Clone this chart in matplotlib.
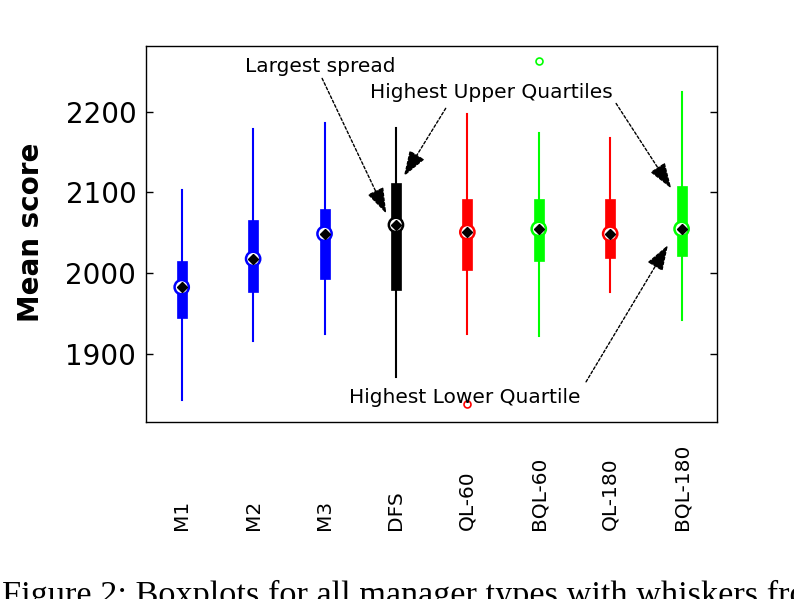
import matplotlib
matplotlib.use("Agg")
import matplotlib.pyplot as plt

# ---- data ----
categories = ['M1', 'M2', 'M3', 'DFS', 'QL-60', 'BQL-60', 'QL-180', 'BQL-180']
box_colors = ['#0000ff', '#0000ff', '#0000ff', '#000000', '#ff0000', '#00ff00', '#ff0000', '#00ff00']
whisker_low = [1844, 1917, 1925, 1872, 1925, 1923, 1977, 1942]
lower_quartile = [1945, 1977, 1993, 1980, 2004, 2015, 2019, 2021]
medians = [1983, 2018, 2049, 2060, 2051, 2055, 2049, 2055]
upper_quartile = [2015, 2066, 2079, 2112, 2092, 2092, 2092, 2108]
whisker_high = [2103, 2178, 2186, 2180, 2197, 2173, 2167, 2224]
outliers = [[], [], [], [], [1838], [2262], [], []]

y_ticks = [1900, 2000, 2100, 2200]
caption = "Figure 2: Boxplots for all manager types with whiskers from"

# annotations: (text, text position, list of arrow (start, tip))
annotations = [
    ("Largest spread", (2.94, 2249), [((2.966, 2241), (3.864, 2074))]),
    ("Highest Upper Quartiles", (5.33, 2217), [((4.697, 2204), (4.111, 2120)),
                                              ((7.083, 2210), (7.855, 2105))]),
    ("Highest Lower Quartile", (4.97, 1840), [((6.662, 1866), (7.809, 2035))]),
]

fig = plt.figure(figsize=(7.94, 5.99), dpi=100)
ax = fig.add_axes([146 / 794, 1 - 422.3 / 599, 571.3 / 794, 376.3 / 599])

positions = list(range(1, len(categories) + 1))
stats = []
for i, cat in enumerate(categories):
    stats.append(dict(label=cat, med=medians[i], q1=lower_quartile[i], q3=upper_quartile[i],
                      whislo=whisker_low[i], whishi=whisker_high[i], fliers=outliers[i]))

bp = ax.bxp(stats, positions=positions, widths=0.14, patch_artist=True, showcaps=False,
            showfliers=True, manage_ticks=False)
for i, c in enumerate(box_colors):
    bp['boxes'][i].set_facecolor(c)
    bp['boxes'][i].set_edgecolor(c)
    bp['boxes'][i].set_linewidth(0.5)
    bp['boxes'][i].set_zorder(3)
    bp['medians'][i].set_visible(False)
    for w in bp['whiskers'][2 * i:2 * i + 2]:
        w.set_color(c)
        w.set_linewidth(1.5)
        w.set_linestyle('-')
        w.set_zorder(2)
    fl = bp['fliers'][i]
    fl.set_marker('o')
    fl.set_markerfacecolor('none')
    fl.set_markeredgecolor(c)
    fl.set_markersize(5)
    fl.set_markeredgewidth(1.2)
    fl.set_zorder(5)

ax.scatter(positions, medians, s=105, facecolor='white', edgecolor=box_colors,
           linewidths=1.8, zorder=4)
ax.plot(positions, medians, 'D', ms=5, color='black', linestyle='none', zorder=5)

ax.set_xlim(0.5, 8.5)
ax.set_ylim(1816, 2281)
ax.set_xticks([])
ax.set_yticks(y_ticks)
ax.tick_params(axis='y', which='both', direction='in', length=5, width=1,
               left=True, right=True, labelsize=20, pad=7)
for s in ax.spines.values():
    s.set_linewidth(1.0)

# category labels, aligned at their start
for p, cat in zip(positions, categories):
    ax.text(p, -0.2862, cat, transform=ax.get_xaxis_transform(), rotation=90,
            ha='center', va='bottom', fontsize=14.5)

fig.text(31 / 794, 1 - 232.5 / 599, "Mean score", rotation=90, ha='center', va='center',
         fontsize=20, fontweight='bold')

for label, (tx, ty), arrows in annotations:
    ax.text(tx, ty, label, ha='center', va='baseline', fontsize=14.5, zorder=6)
    for start, tip in arrows:
        ax.annotate('', xy=tip, xytext=start,
                    arrowprops=dict(arrowstyle='-|>,head_length=1.6,head_width=0.55',
                                    mutation_scale=10, color='black', lw=1.0,
                                    linestyle=(0, (2, 1.5)), shrinkA=0, shrinkB=0),
                    zorder=6)

fig.text(2 / 794, 1 - 604 / 599, caption, ha='left', va='baseline',
         fontsize=24.7, family='Liberation Serif')

fig.savefig('out.png', dpi=100)
